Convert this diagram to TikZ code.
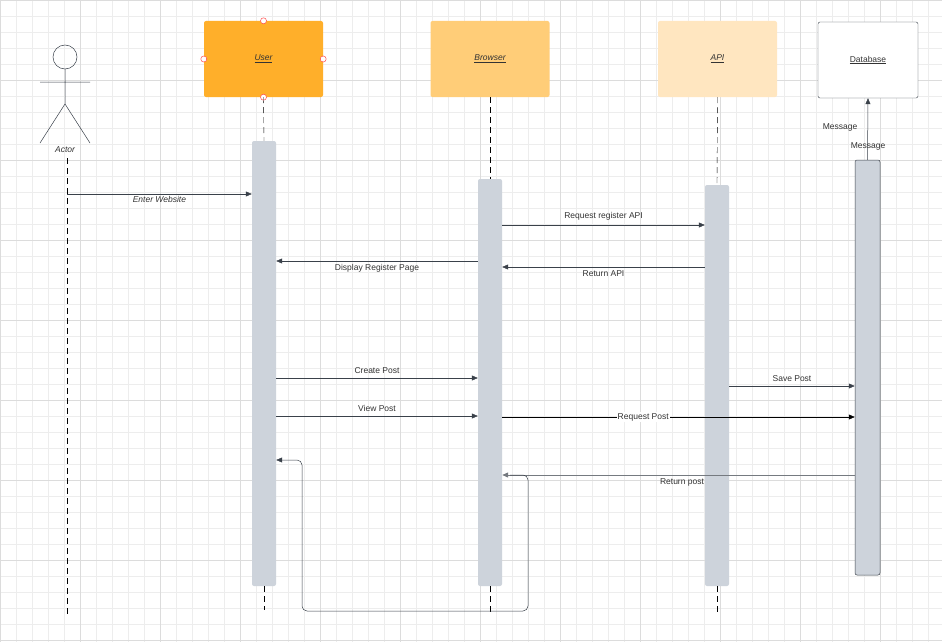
\documentclass[tikz,border=0pt]{standalone}
\usepackage{fontspec}
\setmainfont{Liberation Sans}
\usetikzlibrary{arrows.meta,positioning}
\definecolor{gridminor}{HTML}{EDEDED}
\definecolor{gridmajor}{HTML}{DCDCDC}
\definecolor{bar}{HTML}{CDD3DB}
\definecolor{ink}{HTML}{3A414A}
\definecolor{txt}{HTML}{333333}
\definecolor{userfill}{HTML}{FFAF2A}
\definecolor{browserfill}{HTML}{FFCD78}
\definecolor{apifill}{HTML}{FFE6C0}
\tikzset{
  box/.style={rounded corners=2pt,minimum width=119pt,minimum height=76pt,font=\fontsize{8.5}{10}\selectfont\itshape,text=txt},
  act/.style={fill=bar,rounded corners=2pt,minimum width=24pt,inner sep=0pt},
  life/.style={draw=black,dash pattern=on 6pt off 4pt,thin},
  msg/.style={draw=ink,-{Triangle[length=6pt,width=5pt]},line width=0.5pt},
  lbl/.style={font=\fontsize{8.5}{10}\selectfont,text=txt,inner sep=1pt},
  handle/.style={circle,draw=red!70,fill=white,inner sep=0pt,minimum size=6pt,line width=0.5pt}
}
\begin{document}
\begin{tikzpicture}[x=1pt,y=-1pt]
  \useasboundingbox (0,0) rectangle (942,642);
  % grid
  \fill[white] (0,0) rectangle (942,642);
  \foreach \g in {0,16,...,942} \draw[gridminor,line width=0.5pt] (\g,0) -- (\g,642);
  \foreach \g in {0,16,...,642} \draw[gridminor,line width=0.5pt] (0,\g) -- (942,\g);
  \foreach \g in {0,80,...,942} \draw[gridmajor,line width=0.7pt] (\g,0) -- (\g,642);
  \foreach \g in {0,80,...,642} \draw[gridmajor,line width=0.7pt] (0,\g) -- (942,\g);

  % actor
  \draw[ink,line width=0.5pt] (65,57) circle (12);
  \draw[ink,line width=0.5pt] (65,69) -- (65,104) (40,82) -- (90,82)
    (40,143) -- (65,104) -- (90,143);
  \node[lbl,font=\fontsize{8.5}{10}\selectfont\itshape] (Actor) at (65,150) {Actor};
  \coordinate (ActorEnd) at (67,615);

  % heads
  \node[box,fill=userfill] (User) at (263.5,59) {\underline{User}};
  \node[box,fill=browserfill] (Browser) at (490,59) {\underline{Browser}};
  \node[box,fill=apifill] (API) at (717.5,59) {\underline{API}};
  \node[box,draw=ink,fill=white,minimum width=100pt,font=\fontsize{8.5}{10}\selectfont] (Database) at (868,60) {\underline{Database}};
  \foreach \a in {north,south,east,west} \node[handle] at (User.\a) {};

  % activation bars
  \node[act,minimum height=445pt] (UserBar) at (264,363.5) {};
  \node[act,minimum height=407pt] (BrowserBar) at (490,382.5) {};
  \node[act,minimum height=401pt] (APIBar) at (717,385.5) {};
  \node[act,draw=ink,line width=0.5pt,minimum width=25pt,minimum height=415pt] (DatabaseBar) at (867.5,367.5) {};
  \coordinate (UserEnd) at (264,610);
  \coordinate (BrowserEnd) at (490,615);
  \coordinate (APIEnd) at (717,615);

  % lifelines
  \draw[life] (67,158) -- (ActorEnd);
  \draw[life] (User.south) -- (UserBar.north);
  \draw[life] (UserBar.south) -- (UserEnd);
  \draw[life] (Browser.south) -- (BrowserBar.north);
  \draw[life] (BrowserBar.south) -- (BrowserEnd);
  \draw[life] (API.south) -- (APIBar.north);
  \draw[life] (APIBar.south) -- (APIEnd);

  % messages
  \draw[msg] (DatabaseBar.north) -- (Database.south);
  \node[lbl] at (840,127) {Message};
  \node[lbl] at (868,146) {Message};

  \draw[msg] (67,194) -- (UserBar.west |- 0,194)
    node[lbl,midway,below=1pt,font=\fontsize{8.5}{10}\selectfont\itshape] {Enter Website};
  \draw[msg] (BrowserBar.east |- 0,225) -- (APIBar.west |- 0,225)
    node[lbl,midway,above=3pt] {Request register API};
  \draw[msg] (APIBar.west |- 0,267) -- (BrowserBar.east |- 0,267)
    node[lbl,midway,below=2pt] {Return API};
  \draw[msg] (BrowserBar.west |- 0,261) -- (UserBar.east |- 0,261)
    node[lbl,midway,below=2pt] {Display Register Page};
  \draw[msg] (UserBar.east |- 0,378) -- (BrowserBar.west |- 0,378)
    node[lbl,midway,above=3pt] {Create Post};
  \draw[msg] (UserBar.east |- 0,416) -- (BrowserBar.west |- 0,416)
    node[lbl,midway,above=3pt] {View Post};
  \draw[msg] (APIBar.east |- 0,386) -- (DatabaseBar.west |- 0,386)
    node[lbl,midway,above=3pt] {Save Post};
  \draw[msg,draw=black] (BrowserBar.east |- 0,417) -- (DatabaseBar.west |- 0,417)
    node[lbl,pos=0.4,fill=white] {Request Post};
  \draw[msg,draw=ink!70,line width=1pt] (DatabaseBar.west |- 0,475) -- (BrowserBar.east |- 0,475)
    node[lbl,pos=0.49,below=2pt] {Return post};
  \coordinate (LoopStart) at (510,475);
  \draw[msg,rounded corners=5pt] (LoopStart) -- (528,475) -- (528,611) -- (302,611) -- (302,460) -- (UserBar.east |- 0,460);
\end{tikzpicture}
\end{document}
